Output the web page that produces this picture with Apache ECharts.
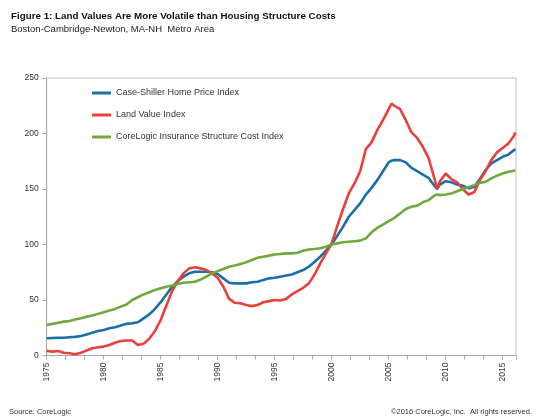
<!DOCTYPE html>
<html>
<head>
<meta charset="utf-8">
<script src="https://cdn.jsdelivr.net/npm/echarts@6/dist/echarts.min.js"></script>
<style>html,body{margin:0;padding:0;background:#fff;}#c{width:550px;height:420px;}</style>
</head>
<body>
<div id="c"></div>
<script>
var years = [1975,1975.5,1976,1976.5,1977,1977.5,1978,1978.5,1979,1979.5,1980,1980.5,1981,1981.5,1982,1982.5,1983,1983.5,1984,1984.5,
1985,1985.5,1986,1986.5,1987,1987.5,1988,1988.5,1989,1989.5,1990,1990.5,1991,1991.5,1992,1992.5,1993,1993.5,1994,1994.5,
1995,1995.5,1996,1996.5,1997,1997.5,1998,1998.5,1999,1999.5,2000,2000.5,2001,2001.5,2002,2002.5,2003,2003.5,2004,2004.5,
2005,2005.25,2005.5,2006,2006.5,2007,2007.5,2008,2008.5,2009,2009.25,2009.5,2010,2010.5,2011,2011.5,2012,2012.5,2013,2013.5,
2014,2014.5,2015,2015.5,2016,2016.1];

var caseShiller = [15.5,15.8,16,16,16.5,16.8,17.5,19,20.5,22,23,24.5,25.5,27,28.5,29,30,33.5,37,42,
48,55,62,67,71,74,75.5,75.5,75.5,75,73.5,69.5,65.5,65,65,65,66,66.5,68,69.5,
70,71,72,73,75,77,80,84.5,89,94.5,100,108,116,125,131,137,145,151,158,166,
174,175.5,176,176,174,169,166,163,160,153,150,154,157,156,154,153,150.5,152,159,167,
173,176,179,181,185,186];

var landValue = [4.3,3.5,4,2.5,2,1.2,2.5,4.5,6.5,7.5,8,9.5,11.5,13,13.5,13.5,9.5,10.5,15,22,
32,45,58,67,74,78.5,79.5,78.5,77,74,70,62,51,47.5,47,45.5,44.5,45.5,48,49,
50,49.5,51,55,58,61,65,73,83,92,101,117,132,146,155,166,186,192,203,212,
222,227,225,222,212,201,196,188,178,160,150,157,164,159,156,150,145,147,158,166,
176,183,187,191,198,201];

var structureCost = [27.5,28.5,29.5,30.5,31,32.5,33.5,35,36,37.5,39,40.5,42,44,46,50,52.5,55,57,59,
60.5,62,63,64.5,65.5,66,66.5,68.5,71,74,76,78,80,81,82.5,84,86,88,89,90,
91,91.5,92,92,92.5,94.5,95.5,96,96.6,98,100,101,102,102.5,103,103.5,105.5,111,115,118,
121,122.5,124,128,132,134,135,138,140,144,145,144.5,145,146,148,150,151.5,153.5,155.5,156.5,
159.5,162,164,165.5,166.5,167];

var seriesNames = ['Case-Shiller Home Price Index','Land Value Index','CoreLogic Insurance Structure Cost Index'];
var yTicks = [0,50,100,150,200,250];

function pairs(v){ return years.map(function(y,i){ return [y, v[i]]; }); }

var chart = echarts.init(document.getElementById('c'));
var font = 'Liberation Sans, Arial, sans-serif';
chart.setOption({
  backgroundColor:'#fff',
  animation:false,
  title:[
    {text:'Figure 1: Land Values Are More Volatile than Housing Structure Costs',
     subtext:'Boston-Cambridge-Newton, MA-NH  Metro Area',
     left:6, top:6, itemGap:3,
     textStyle:{fontFamily:font,fontSize:9.8,fontWeight:'bold',color:'#111'},
     subtextStyle:{fontFamily:font,fontSize:9.5,color:'#222'}},
    {text:'Source: CoreLogic', left:4, top:403,
     textStyle:{fontFamily:font,fontSize:7.5,fontWeight:'normal',color:'#333'}},
    {text:'\u00a92016 CoreLogic, Inc.  All rights reserved.', right:13, top:403,
     textStyle:{fontFamily:font,fontSize:7.5,fontWeight:'normal',color:'#333'}}
  ],
  legend:{
    orient:'vertical', left:92, top:87, itemGap:10, padding:0,
    itemWidth:19, itemHeight:3, icon:'rect',
    textStyle:{fontFamily:font,fontSize:9,color:'#333',lineHeight:12},
    data:seriesNames
  },
  grid:{left:46.7, right:34, top:78, bottom:64.5, show:true, borderColor:'#c0c0c0', borderWidth:1},
  xAxis:{
    type:'value', min:1975, max:2016.17, interval:5,
    axisLine:{lineStyle:{color:'#a8a8a8'}},
    axisTick:{show:true,length:4,lineStyle:{color:'#a8a8a8'}},
    minorTick:{show:true,splitNumber:3,length:4,lineStyle:{color:'#a8a8a8'}},
    splitLine:{show:false},
    axisLabel:{rotate:90, margin:7, fontFamily:font, fontSize:8.5, color:'#333',
      showMaxLabel:false, formatter:function(v){return String(v);}}
  },
  yAxis:{
    type:'value', min:yTicks[0], max:yTicks[yTicks.length-1], interval:50,
    axisLine:{show:true,lineStyle:{color:'#a8a8a8'}},
    axisTick:{show:true,length:4,lineStyle:{color:'#a8a8a8'}},
    splitLine:{show:false},
    axisLabel:{margin:8, fontFamily:font, fontSize:8.5, color:'#333'}
  },
  series:[
    {name:seriesNames[0], type:'line', data:pairs(caseShiller), showSymbol:false,
     lineStyle:{width:2.6,color:'#1b6fa8'}, itemStyle:{color:'#1b6fa8'}},
    {name:seriesNames[1], type:'line', data:pairs(landValue), showSymbol:false,
     lineStyle:{width:2.6,color:'#e8403a'}, itemStyle:{color:'#e8403a'}},
    {name:seriesNames[2], type:'line', data:pairs(structureCost), showSymbol:false,
     lineStyle:{width:2.6,color:'#6fa83c'}, itemStyle:{color:'#6fa83c'}}
  ]
});
</script>
</body>
</html>
